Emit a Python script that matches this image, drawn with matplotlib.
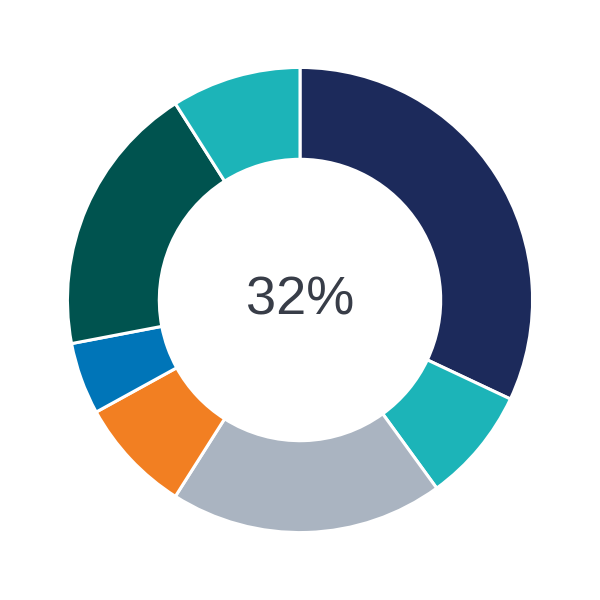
import matplotlib.pyplot as plt

# segment shares, clockwise from 12 o'clock
shares = [32, 8, 19, 8, 5, 19, 9]
colors = ['#1c2a5b', '#1cb4b8', '#aab4c1', '#f27f22', '#0075b8', '#00534f', '#1cb4b8']
center_label = '32%'

fig = plt.figure(figsize=(6, 6), dpi=100)
ax = fig.add_axes([0, 0, 1, 1])

ax.pie(shares, colors=colors, startangle=90, counterclock=False, radius=1,
       wedgeprops=dict(width=0.395, edgecolor='white', linewidth=2.2))
ax.text(0, 0, center_label, ha='center', va='center', fontsize=39,
        color='#383d48', family=['Liberation Sans', 'DejaVu Sans'])

ax.set_xlim(-1.29, 1.29)
ax.set_ylim(-1.29, 1.29)
ax.set_aspect('equal')
ax.axis('off')

fig.savefig('out.png', dpi=100, facecolor='white')
